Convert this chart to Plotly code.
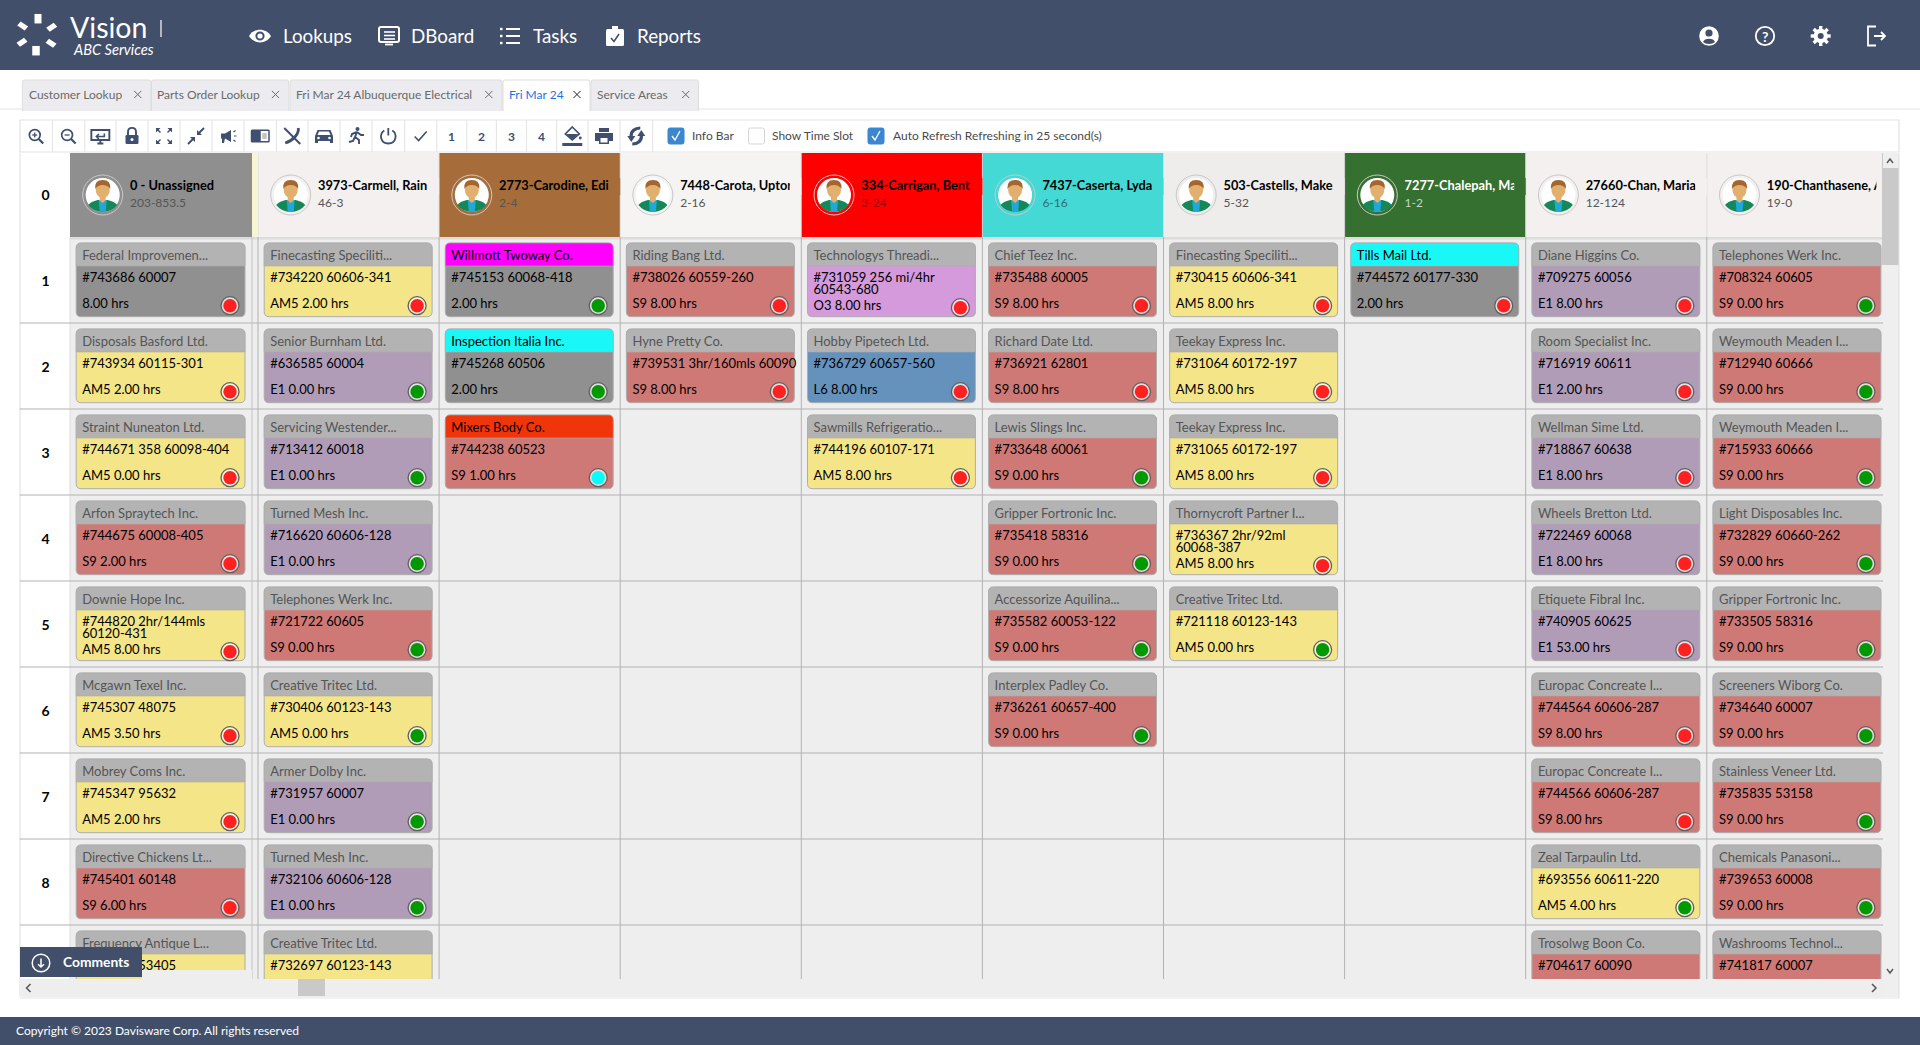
import re
import plotly.graph_objects as go

# ---------- data ----------
TECH_TITLES = ["0 - Unassigned", "3973-Carmell, Rain", "2773-Carodine, Edi", "7448-Carota, Uptor",
               "334-Carrigan, Bent", "7437-Caserta, Lyda", "503-Castells, Make", "7277-Chalepah, Ma",
               "27660-Chan, Maria", "190-Chanthasene, A"]
TECH_SUBS = ["203-853.5", "46-3", "2-4", "2-16", "3-24", "6-16", "5-32", "1-2", "12-124", "19-0"]
TECH_STATE = ["none", "idle", "brown", "idle2", "alert", "teal", "idle3", "active", "idle", "idle"]
SLOTS_PER_TECH = [9, 9, 3, 2, 3, 6, 5, 1, 9, 9]

CARD_NAMES = [
    "Federal Improvemen...", "Disposals Basford Ltd.", "Straint Nuneaton Ltd.", "Arfon Spraytech Inc.",
    "Downie Hope Inc.", "Mcgawn Texel Inc.", "Mobrey Coms Inc.", "Directive Chickens Lt...", "Frequency Antique L...",
    "Finecasting Speciliti...", "Senior Burnham Ltd.", "Servicing Westender...", "Turned Mesh Inc.",
    "Telephones Werk Inc.", "Creative Tritec Ltd.", "Armer Dolby Inc.", "Turned Mesh Inc.", "Creative Tritec Ltd.",
    "Willmott Twoway Co.", "Inspection Italia Inc.", "Mixers Body Co.",
    "Riding Bang Ltd.", "Hyne Pretty Co.",
    "Technologys Threadi...", "Hobby Pipetech Ltd.", "Sawmills Refrigeratio...",
    "Chief Teez Inc.", "Richard Date Ltd.", "Lewis Slings Inc.", "Gripper Fortronic Inc.",
    "Accessorize Aquilina...", "Interplex Padley Co.",
    "Finecasting Speciliti...", "Teekay Express Inc.", "Teekay Express Inc.", "Thornycroft Partner I...",
    "Creative Tritec Ltd.",
    "Tills Mail Ltd.",
    "Diane Higgins Co.", "Room Specialist Inc.", "Wellman Sime Ltd.", "Wheels Bretton Ltd.", "Etiquete Fibral Inc.",
    "Europac Concreate I...", "Europac Concreate I...", "Zeal Tarpaulin Ltd.", "Trosolwg Boon Co.",
    "Telephones Werk Inc.", "Weymouth Meaden I...", "Weymouth Meaden I...", "Light Disposables Inc.",
    "Gripper Fortronic Inc.", "Screeners Wiborg Co.", "Stainless Veneer Ltd.", "Chemicals Panasoni...",
    "Washrooms Technol...",
]
CARD_JOBS = [
    "#743686 60007", "#743934 60115-301", "#744671 358 60098-404", "#744675 60008-405",
    "#744820 2hr/144mls\n60120-431", "#745307 48075", "#745347 95632", "#745401 60148", "#745544 53405",
    "#734220 60606-341", "#636585 60004", "#713412 60018", "#716620 60606-128", "#721722 60605",
    "#730406 60123-143", "#731957 60007", "#732106 60606-128", "#732697 60123-143",
    "#745153 60068-418", "#745268 60506", "#744238 60523",
    "#738026 60559-260", "#739531 3hr/160mls 60090",
    "#731059 256 mi/4hr\n60543-680", "#736729 60657-560", "#744196 60107-171",
    "#735488 60005", "#736921 62801", "#733648 60061", "#735418 58316", "#735582 60053-122", "#736261 60657-400",
    "#730415 60606-341", "#731064 60172-197", "#731065 60172-197", "#736367 2hr/92ml\n60068-387", "#721118 60123-143",
    "#744572 60177-330",
    "#709275 60056", "#716919 60611", "#718867 60638", "#722469 60068", "#740905 60625", "#744564 60606-287",
    "#744566 60606-287", "#693556 60611-220", "#704617 60090",
    "#708324 60605", "#712940 60666", "#715933 60666", "#732829 60660-262", "#733505 58316", "#734640 60007",
    "#735835 53158", "#739653 60008", "#741817 60007",
]
CARD_CODES = [
    "", "AM5", "AM5", "S9", "AM5", "AM5", "AM5", "S9", "AM5",
    "AM5", "E1", "E1", "E1", "S9", "AM5", "E1", "E1", "AM5",
    "", "", "S9",
    "S9", "S9",
    "O3", "L6", "AM5",
    "S9", "S9", "S9", "S9", "S9", "S9",
    "AM5", "AM5", "AM5", "AM5", "AM5",
    "",
    "E1", "E1", "E1", "E1", "E1", "S9", "S9", "AM5", "S9",
    "S9", "S9", "S9", "S9", "S9", "S9", "S9", "S9", "S9",
]
CARD_HOURS = [
    8.0, 2.0, 0.0, 2.0, 8.0, 3.5, 2.0, 6.0, None,
    2.0, 0.0, 0.0, 0.0, 0.0, 0.0, 0.0, 0.0, None,
    2.0, 2.0, 1.0,
    8.0, 8.0,
    8.0, 8.0, 8.0,
    8.0, 8.0, 0.0, 0.0, 0.0, 0.0,
    8.0, 8.0, 8.0, 8.0, 0.0,
    2.0,
    8.0, 2.0, 8.0, 8.0, 53.0, 8.0, 8.0, 4.0, None,
    0.0, 0.0, 0.0, 0.0, 0.0, 0.0, 0.0, 0.0, None,
]
CARD_STATUS = [
    "late", "late", "late", "late", "late", "late", "late", "late", None,
    "late", "ok", "ok", "ok", "ok", "ok", "ok", "ok", None,
    "ok", "ok", "now",
    "late", "late",
    "late", "late", "late",
    "late", "late", "ok", "ok", "ok", "ok",
    "late", "late", "late", "late", "ok",
    "late",
    "late", "late", "late", "late", "late", "late", "late", "ok", None,
    "ok", "ok", "ok", "ok", "ok", "ok", "ok", "ok", None,
]
TAB_LABELS = ["Customer Lookup", "Parts Order Lookup", "Fri Mar 24 Albuquerque Electrical", "Fri Mar 24", "Service Areas"]
NAV_LABELS = ["Lookups", "DBoard", "Tasks", "Reports"]
TOOL_NUMBERS = ["1", "2", "3", "4"]
CHECK_LABELS = ["Info Bar", "Show Time Slot", "Auto Refresh Refreshing in 25 second(s)"]
ROW_LABELS = ["0", "1", "2", "3", "4", "5", "6", "7", "8", "9"]

# ---------- styles ----------
FONT = "Lato"
NAVY = "#414f6b"
ICON = "#3e4f70"
BODY = {"": "#909090", "AM5": "#f4e588", "E1": "#b19cb8", "S9": "#cf7976", "O3": "#d49adb", "L6": "#6492bd"}
BANNER = {"Willmott Twoway Co.": "#ff00ff", "Inspection Italia Inc.": "#1af7f7",
          "Mixers Body Co.": "#f0350a", "Tills Mail Ltd.": "#1af7f7"}
DOT = {"late": "#ff2020", "ok": "#009900", "now": "#00ffff"}
HEAD = {"none": "#8f8f8f", "idle": "#f3f0ef", "idle2": "#f5f4f3", "idle3": "#eeedec", "brown": "#a66d3a",
        "alert": "#ff0000", "teal": "#44d9d5", "active": "#367030"}

# ---------- scales: one column / one row are the axis units ----------
W, H = 1920, 1045
CW, RH = 181.1, 86.0
X0, Y0 = 258.0, 237.0
def tx(px): return 1 + (px - X0) / CW
def ty(py): return 1 + (py - Y0) / RH
def col_left(t): return 70.0 if t == 0 else X0 + (t - 1) * CW
def col_right(t): return 252.0 if t == 0 else col_left(t) + CW
def row_top(r): return Y0 + (r - 1) * RH

shapes, notes = [], []

def sp(d):
    out, k = [], 0
    for tok in re.findall(r"[A-Za-z]|-?\d+\.?\d*", d):
        if tok.isalpha():
            out.append(tok); k = 0
        else:
            v = float(tok)
            out.append(f"{tx(v) if k % 2 == 0 else ty(v):.5f}")
            k += 1
    return " ".join(out)

def shift(d, cx, cy, sc=1.0):
    out, k = [], 0
    for tok in re.findall(r"[A-Za-z]|-?\d+\.?\d*", d):
        if tok.isalpha():
            out.append(tok); k = 0
        else:
            v = float(tok) * sc
            out.append(f"{v + (cx if k % 2 == 0 else cy):.3f}")
            k += 1
    return " ".join(out)

def path(d, fill=None, stroke=None, w=0, layer="below"):
    shapes.append(dict(type="path", xref="x", yref="y", path=sp(d), layer=layer,
                       fillcolor=fill or "rgba(0,0,0,0)",
                       line=dict(color=stroke or "rgba(0,0,0,0)", width=w)))

def rect(x0, y0, x1, y1, fill=None, stroke=None, w=0, layer="below"):
    shapes.append(dict(type="rect", xref="x", yref="y", x0=tx(x0), x1=tx(x1), y0=ty(y0), y1=ty(y1), layer=layer,
                       fillcolor=fill or "rgba(0,0,0,0)",
                       line=dict(color=stroke or "rgba(0,0,0,0)", width=w)))

def line(x0, y0, x1, y1, color, w=1, layer="below"):
    shapes.append(dict(type="line", xref="x", yref="y", x0=tx(x0), x1=tx(x1), y0=ty(y0), y1=ty(y1), layer=layer,
                       line=dict(color=color, width=w)))

def circle(cx, cy, r, fill=None, stroke=None, w=0, ry=None, layer="below"):
    ry = r if ry is None else ry
    shapes.append(dict(type="circle", xref="x", yref="y", x0=tx(cx - r), x1=tx(cx + r), y0=ty(cy - ry), y1=ty(cy + ry),
                       layer=layer, fillcolor=fill or "rgba(0,0,0,0)",
                       line=dict(color=stroke or "rgba(0,0,0,0)", width=w)))

def ic(cx, cy, d, fill=None, stroke=None, w=0, layer="below"):
    path(shift(d, cx, cy), fill, stroke, w, layer)

def label(px, py, text, size, color, anchor="left", weight=None, italic=False):
    f = dict(family=FONT, size=size, color=color)
    if weight: f["weight"] = weight
    if italic: f["style"] = "italic"
    notes.append(dict(xref="x", yref="y", x=tx(px), y=ty(py), text=text, showarrow=False, font=f,
                      xanchor=anchor, yanchor="middle", borderpad=0, borderwidth=0))

def rrect(x0, y0, x1, y1, r):
    return (f"M {x0+r} {y0} L {x1-r} {y0} Q {x1} {y0} {x1} {y0+r} L {x1} {y1-r} Q {x1} {y1} {x1-r} {y1} "
            f"L {x0+r} {y1} Q {x0} {y1} {x0} {y1-r} L {x0} {y0+r} Q {x0} {y0} {x0+r} {y0} Z")

# ---------- page chrome ----------
rect(0, 0, W, 70, NAVY)
rect(0, 1017, W, H, NAVY)
for (cx, cy, w_, h_, a) in [(38, 18.7, 7, 9.5, 0), (36, 50.7, 7.5, 9.5, 0)]:
    rect(cx - w_/2, cy - h_/2, cx + w_/2, cy + h_/2, "#ffffff")
ic(22.7, 26, "M -5.5 -0.5 L -2 -4.5 L 5.5 0.5 L 2 4.5 Z", "#ffffff")
ic(51.7, 27.3, "M 5.5 -0.5 L 2 -4.5 L -5.5 0.5 L -2 4.5 Z", "#ffffff")
ic(22, 42.3, "M 5.5 -0.5 L 2 -4.5 L -5.5 0.5 L -2 4.5 Z", "#ffffff")
ic(51, 43.3, "M -5.5 -0.5 L -2 -4.5 L 5.5 0.5 L 2 4.5 Z", "#ffffff")
label(70, 27, "Vision", 28.5, "#ffffff")
line(161, 20, 161, 37, "#ffffff", 1.2)
label(73, 49, "ABC Services", 14.6, "#ffffff", italic=True)

NAV_TEXT_X = [282.6, 411, 532.6, 636.7]
for x_, t in zip(NAV_TEXT_X, NAV_LABELS):
    label(x_, 35, t, 18.8, "#ffffff")
ic(260, 36, "M -11 0 C -6 -8.5 6 -8.5 11 0 C 6 8.5 -6 8.5 -11 0 Z", "#ffffff")
circle(260, 36, 4.6, NAVY); circle(260, 36, 2.6, "#ffffff")
ic(389, 35, rrect(-10, -8, 10, 7, 2), None, "#ffffff", 2)
for yy in (-3, 0.5, 4):
    ic(389, 35, f"M -5 {yy} L 6 {yy}", None, "#ffffff", 1.6)
ic(389, 35, "M -4 9.5 L 4 9.5", None, "#ffffff", 1.8)
for yy in (-7, 0, 7):
    ic(510, 36, f"M -10 {yy} L -7.5 {yy}", None, "#ffffff", 2.4)
    ic(510, 36, f"M -4 {yy} L 10 {yy}", None, "#ffffff", 2)
ic(615, 36, rrect(-9, -7, 9, 10, 1.5), "#ffffff")
ic(615, 36, "M -3 -10 L 3 -10 L 3 -6 L -3 -6 Z", "#ffffff")
ic(615, 36, "M -4 2 L -1 5.5 L 4 -2", None, NAVY, 1.6)

circle(1709, 36, 9.8, "#ffffff")
circle(1709, 33, 3.6, NAVY)
ic(1709, 36, "M -6 6 C -5 1.5 5 1.5 6 6 C 3 8.5 -3 8.5 -6 6 Z", NAVY)
circle(1765, 36, 9.2, None, "#ffffff", 1.8)
label(1765, 36, "?", 14, "#ffffff", "center", "bold")
for d in ("M -10 0 L 10 0", "M 0 -10 L 0 10", "M -7 -7 L 7 7", "M 7 -7 L -7 7"):
    ic(1820.7, 36, d, None, "#ffffff", 3.4)
circle(1820.7, 36, 7.2, "#ffffff"); circle(1820.7, 36, 3, NAVY)
ic(1876, 36, "M 0 -9.5 L -8 -9.5 L -8 9.5 L 0 9.5", None, "#ffffff", 1.8)
ic(1876, 36, "M -2 0 L 9 0 M 5 -4 L 9 0 L 5 4", None, "#ffffff", 1.8)

# tabs
line(0, 109, W, 109, "#e3e3e3", 1.2)
TAB_EDGES = [(22.4, 151), (151.5, 288.8), (290, 502), (503, 590), (591, 698.5)]
TAB_TEXT_X = [28.6, 157, 296, 508.7, 597]
TAB_CLOSE_X = [137.8, 275.5, 488.8, 577, 685.7]
for i, ((a, b), tx_, cx_, t) in enumerate(zip(TAB_EDGES, TAB_TEXT_X, TAB_CLOSE_X, TAB_LABELS)):
    active = i == 3
    path(rrect(a, 80, b, 112, 2), "#ffffff" if active else "#ececf0", "#dddddd", 1)
    if active:
        rect(a + 1, 108, b - 1, 111, "#ffffff")
    label(tx_, 94.7 if active else 94.2, t, 12, "#1a73e8" if active else "#6a6a6a")
    col = "#222222" if active else "#6a6a6a"
    ic(cx_, 94.5, "M -3.6 -3.6 L 3.6 3.6 M 3.6 -3.6 L -3.6 3.6", None, col, 1)
rect(0, 111, W, 119, "#ffffff")

# toolbar
rect(20, 120, 1899, 152, "#ffffff", "#e3e3e3", 1.2)
SEPS = [52.5, 84.7, 116, 148, 180, 212, 244, 276.5, 308, 340, 372, 404.6, 436.7, 466.8, 496.4, 526.5, 556.6, 588, 620, 652.6]
for s in SEPS:
    line(s, 120, s, 152, "#e6e6e6", 1.2)
BTN = [(a + b) / 2 for a, b in zip([20] + SEPS[:-1], SEPS)]
Y = 136
def mag(cx, minus):
    circle(cx - 1.5, Y - 1, 5.4, None, ICON, 1.7)
    ic(cx, Y, "M 2.5 3 L 7 7.5", None, ICON, 2.2)
    ic(cx, Y, "M -4 -1 L 1 -1", None, ICON, 1.3)
    if not minus:
        ic(cx, Y, "M -1.5 -3.5 L -1.5 1.5", None, ICON, 1.3)
mag(BTN[0], False); mag(BTN[1], True)
ic(BTN[2], Y, "M -9 -6 L 9 -6 L 9 4 L -9 4 Z M -3 7.5 L 3 7.5 M 0 4 L 0 7.5", None, ICON, 1.9)
ic(BTN[2], Y, "M 4 -2.5 L 4 0.5 L -4 0.5 M -1.5 -2 L -4 0.5 L -1.5 3", None, ICON, 1.6)
ic(BTN[3], Y, rrect(-6.5, -1, 6.5, 8, 1.2), ICON)
ic(BTN[3], Y, "M -4 -1 L -4 -4 C -4 -9.5 4 -9.5 4 -4 L 4 -1", None, ICON, 1.9)
circle(BTN[3], Y + 3.5, 1.5, "#ffffff")
for sx, sy in [(-1, -1), (1, -1), (-1, 1), (1, 1)]:
    ic(BTN[4], Y, f"M {8*sx} {8*sy} L {3.5*sx} {8*sy} L {8*sx} {3.5*sy} Z", ICON)
    ic(BTN[4], Y, f"M {7*sx} {7*sy} L {3.5*sx} {3.5*sy}", None, ICON, 1.5)
ic(BTN[5], Y, "M 8 -8 L 2 -2 M -8 8 L -2 2", None, ICON, 1.9)
ic(BTN[5], Y, "M 1 -6 L 1 -1 L 6 -1 Z M -1 6 L -1 1 L -6 1 Z", ICON)
ic(BTN[6], Y, "M -7 -2.5 L -3 -2.5 L 3 -6 L 3 6 L -3 2.5 L -4 7 L -6 7 L -6 2.5 L -7 2.5 Z", ICON)
ic(BTN[6], Y, "M 5.5 -4 L 7.5 -5.5 M 6 0 L 8.5 0 M 5.5 4 L 7.5 5.5", None, ICON, 1.2)
ic(BTN[7], Y, rrect(-9.5, -6.5, 9.5, 6.5, 1.5), ICON)
ic(BTN[7], Y, "M 0.5 -5 L 8 -5 L 8 5 L 0.5 5 Z", "#ffffff")
ic(BTN[7], Y, "M 2 -2 L 6.5 -2 M 2 0 L 6.5 0 M 2 2 L 6.5 2", None, "#888888", 1.2)
ic(BTN[8], Y, "M -8 -8 L 8 8", None, ICON, 2)
ic(BTN[8], Y, "M 6 -8 C 7 -3 2 4 -7 7", None, ICON, 2.8)
ic(BTN[9], Y, "M -9 7 L -9 0 L -6.5 -6 L 6.5 -6 L 9 0 L 9 7 L 6 7 L 6 5 L -6 5 L -6 7 Z", ICON)
ic(BTN[9], Y, "M -5 -4.5 L 5 -4.5 L 6.5 -1 L -6.5 -1 Z", "#ffffff")
circle(BTN[9] - 5.5, Y + 2, 1.3, "#ffffff"); circle(BTN[9] + 5.5, Y + 2, 1.3, "#ffffff")
circle(BTN[10] + 1.5, Y - 7, 2, ICON)
ic(BTN[10], Y, "M 1 -4 L -1 1 L 3 4 L 3 8 M -1 1 L -3 5 L -7 6 M 1 -4 L -4 -2 L -5 1 M 1 -4 L 5 -1 L 8 -1", None, ICON, 1.9)
ic(BTN[11], Y, "M 0 -8 L 0 -0.5", None, ICON, 1.8)
ic(BTN[11], Y, "M -4 -5.5 C -9.5 -2 -8 7.5 0 7.5 C 8 7.5 9.5 -2 4 -5.5", None, ICON, 1.8)
ic(BTN[12], Y, "M -6 0.5 L -2 4.5 L 6 -4.5", None, ICON, 1.6)
for i, t in enumerate(TOOL_NUMBERS):
    label(BTN[13 + i], Y, t, 12, ICON, "center", "bold")
ic(BTN[17], Y, "M 0 -9 L 7 -2 L 0 4 L -7 -2 Z", None, ICON, 1.6)
ic(BTN[17], Y, "M -6 -2 L 6 -2 L 0 4 Z", ICON)
circle(BTN[17] + 8, Y + 2, 1.4, ICON)
rect(BTN[17] - 10, Y + 7, BTN[17] + 10, Y + 10, ICON)
ic(BTN[18], Y, "M -9 -3 L 9 -3 L 9 5 L 5 5 L 5 8 L -5 8 L -5 5 L -9 5 Z M -5 -8 L 5 -8 L 5 -4 L -5 -4 Z", ICON)
ic(BTN[18], Y, "M -3.5 2 L 3.5 2 L 3.5 6.5 L -3.5 6.5 Z", "#ffffff")
ic(BTN[19], Y, "M 4 -8 C -1 -8 -6 -5 -5 1 M -4 8 C 1 8 6 5 5 -1", None, ICON, 3.2)
ic(BTN[19], Y, "M -9 0 L -1 0 L -5 6 Z M 9 0 L 1 0 L 5 -6 Z", ICON)

CHECK_X = [668, 748.5, 868]
CHECK_TEXT_X = [692, 772, 893]
CHECK_ON = [True, False, True]
for cx_, tx_, on, t in zip(CHECK_X, CHECK_TEXT_X, CHECK_ON, CHECK_LABELS):
    path(rrect(cx_, 128, cx_ + 16, 144, 2), "#3a87d0" if on else "#ffffff", "#3a87d0" if on else "#d5d5d5", 1)
    if on:
        ic(cx_ + 8, 136, "M -4 0 L -1 4 L 4 -5", None, "#ffffff", 1.3)
    label(tx_, 135.4, t, 12, "#4a4a4a")

# ---------- board ----------
rect(70, 237, 1883, 980, "#eeeeee")
rect(20, 153, 70, 980, "#ffffff")
line(20, 153, 20, 998, "#e3e3e3", 1.2)
line(70, 237, 70, 980, "#dddddd", 1)

def avatar(cx, cy):
    circle(cx, cy, 20, None, "#c8c8c8", 1)
    circle(cx, cy, 17, "#ffffff")
    ic(cx, cy, "M -14.5 10 Q -12 6.5 -5 5 L 5 5 Q 12 6.5 14.5 10 Q 9 17 0 17 Q -9 17 -14.5 10 Z", "#15885a")
    ic(cx, cy, "M -4 5 L 4 5 L 3 17 L -3 17 Z", "#1fa8d8")
    ic(cx, cy, "M -3 1 L 3 1 L 3 5.5 L 0 8 L -3 5.5 Z", "#e2b06e")
    circle(cx, cy - 5, 7, "#e2b06e", ry=8.3)
    ic(cx, cy, "M -7.5 -6 Q -8.5 -15 0 -15 Q 8.5 -15 7.5 -6 Q 5 -10 0 -10 Q -5 -10 -7.5 -6 Z", "#a5652f")

hx, hy, hc = [], [], []
shx, shy, shc = [], [], []
for t, (title, sub, state) in enumerate(zip(TECH_TITLES, TECH_SUBS, TECH_STATE)):
    a, b = col_left(t), col_right(t)
    b_vis = min(b, 1883)
    rect(a, 153, b_vis, 237, HEAD[state])
    if t:
        line(a, 153, a, 237, "#d8d8d8", 0.8)
    avatar(a + 32.7, 195)
    white = state == "active"
    hx.append(tx(a + 60)); hy.append(ty(186.7)); hc.append("#ffffff" if white else "#000000")
    shx.append(tx(a + 60)); shy.append(ty(203.6))
    shc.append("#c8d4c4" if white else ("#a80000" if state == "alert" else ("#2f6f75" if state == "teal" else "#555555")))
    # the column crops long titles a little before its edge
    rect(b - 11.5, 178, b_vis, 195, HEAD[state], layer="above")
rect(252, 153, 258, 237, "#f6f6d4")
rect(70, 237, 1883, 239.5, "#dcdcdc")

# grid
for r in range(1, 10):
    line(20, row_top(r) + 86, 1883, row_top(r) + 86, "#b2b2b2", 1.2)
line(252, 237, 252, 980, "#c2c2c2", 1)
for t in range(1, 10):
    line(col_left(t), 237, col_left(t), 980, "#b2b2b2", 1)

nx, ny, nt, nc = [], [], [], []
jx, jy, jt = [], [], []
sx_, sy_, st_ = [], [], []
dx, dy, dc = [], [], []

techs = [t for t, n in enumerate(SLOTS_PER_TECH) for _ in range(n)]
slots = [s + 1 for n in SLOTS_PER_TECH for s in range(n)]
for t, r, name, job, code, hrs, status in zip(techs, slots, CARD_NAMES, CARD_JOBS, CARD_CODES, CARD_HOURS, CARD_STATUS):
    a = col_left(t) + 6.2
    b = col_right(t) - 7
    top = row_top(r) + 6
    bot = top + 73.7
    path(rrect(a, top, b, bot, 5), BODY[code], "#adadad", 1)
    path(f"M {a+5} {top} L {b-5} {top} Q {b} {top} {b} {top+5} L {b} {top+23} L {a} {top+23} L {a} {top+5} Q {a} {top} {a+5} {top} Z",
         BANNER.get(name, "#b3b3b3"), "#adadad", 0.6)
    lx = a + 6
    nx.append(tx(lx)); ny.append(ty(top + 13.6)); nt.append(name)
    nc.append("#000000" if name in BANNER else "#555555")
    parts = job.split("\n")
    jx.append(tx(lx)); jy.append(ty(top + 35.6)); jt.append(parts[0])
    if len(parts) > 1:
        jx.append(tx(lx)); jy.append(ty(top + 47.6)); jt.append(parts[1])
    extra = 2 if len(parts) > 1 else 0
    if hrs is not None:
        txt = f"{hrs:.2f} hrs" if not code else f"{code} {hrs:.2f} hrs"
        sx_.append(tx(lx)); sy_.append(ty(top + 61.6 + extra)); st_.append(txt)
    if status:
        dx.append(tx(b - 15)); dy.append(ty(top + 62.7 + extra)); dc.append(DOT[status])

def text_trace(x, y, text, size, color, weight=None):
    f = dict(family=FONT, size=size, color=color)
    if weight: f["weight"] = weight
    return go.Scatter(x=x, y=y, text=text, mode="text", textposition="middle right", textfont=f,
                      hoverinfo="skip", showlegend=False, cliponaxis=False)

data = [
    text_trace(hx, hy, TECH_TITLES, 12.8, hc, 700),
    text_trace(shx, shy, TECH_SUBS, 12, shc),
    text_trace(nx, ny, nt, 13, nc),
    text_trace(jx, jy, jt, 13, "#000000"),
    text_trace(sx_, sy_, st_, 13, "#000000"),
    go.Scatter(x=dx, y=dy, mode="markers", hoverinfo="skip", showlegend=False,
               marker=dict(size=18, color="rgba(255,255,255,0.7)", line=dict(color="#5f5f5f", width=1.3))),
    go.Scatter(x=dx, y=dy, mode="markers", hoverinfo="skip", showlegend=False,
               marker=dict(size=13.5, color=dc, line=dict(width=0))),
    go.Scatter(x=[tx(45.5)] * len(ROW_LABELS), y=[ty(196.5)] + [r + 0.525 for r in range(1, 10)], text=ROW_LABELS,
               mode="text", textposition="middle center", hoverinfo="skip", showlegend=False,
               textfont=dict(family=FONT, size=14, color="#000000", weight="bold")),
]

# scrollbars and page below the board sit over the cropped last row
rect(0, 997, W, 1017, "#ffffff", layer="above")
rect(20, 979, 1899, 997, "#eeeeee", layer="above")
line(20, 998, 1899, 998, "#e3e3e3", 1.2, layer="above")
rect(298, 979, 325, 996, "#c9c9c9", layer="above")
rect(142, 970, 252, 979, "#eeeeee", layer="above")
rect(1883, 153, 1899, 997, "#efefef", layer="above")
rect(1882, 153, 1899, 265, "#c9c9c9", layer="above")
rect(1883, 153, 1899, 168, "#efefef", layer="above")
line(1899, 153, 1899, 998, "#e3e3e3", 1.2, layer="above")
ic(1890, 161, "M -3 2 L 0 -2 L 3 2", None, "#555555", 1.4, layer="above")
ic(1890, 971, "M -3 -2 L 0 2 L 3 -2", None, "#555555", 1.4, layer="above")
ic(28.5, 988, "M 2 -4 L -2 0 L 2 4", None, "#555555", 1.5, layer="above")
ic(1874, 988, "M -2 -4 L 2 0 L -2 4", None, "#555555", 1.5, layer="above")
rect(20, 947, 142, 977, NAVY, layer="above")
circle(41, 963, 8.8, None, "#ffffff", 1.5, layer="above")
ic(41, 963, "M 0 -4.5 L 0 4 M -3 1.2 L 0 4 L 3 1.2", None, "#ffffff", 1.5, layer="above")
label(63, 961, "Comments", 13.8, "#ffffff", weight="bold")
label(16, 1030.5, "Copyright © 2023 Davisware Corp. All rights reserved", 12, "#ffffff")

fig = go.Figure(data=data)
fig.update_layout(
    width=W, height=H, margin=dict(l=0, r=0, t=0, b=0), autosize=False,
    paper_bgcolor="#ffffff", plot_bgcolor="#ffffff", showlegend=False,
    xaxis=dict(range=[tx(0), tx(W)], visible=False, fixedrange=True, domain=[0, 1]),
    yaxis=dict(range=[ty(H), ty(0)], visible=False, fixedrange=True, domain=[0, 1]),
    shapes=shapes, annotations=notes,
)
fig.write_html("out.html", config={"displayModeBar": False},
               post_script="document.body.style.margin='0';document.body.style.overflow='hidden';")
